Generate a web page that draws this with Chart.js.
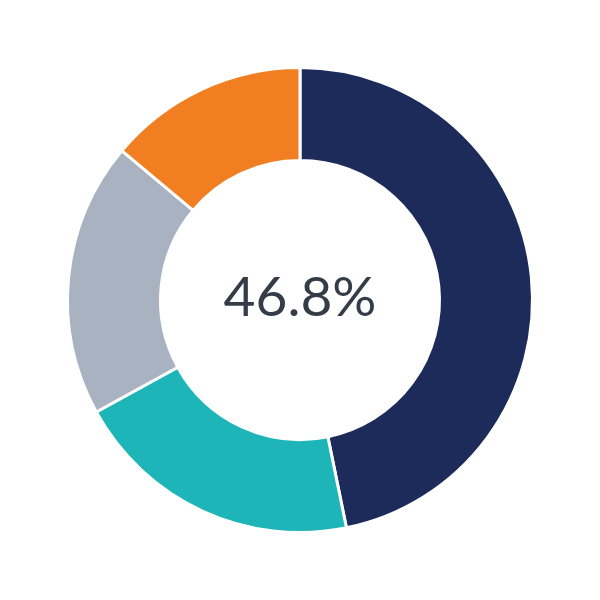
<!DOCTYPE html>
<html>
<head>
<meta charset="utf-8">
<script src="https://cdn.jsdelivr.net/npm/chart.js@4"></script>
<style>
  html, body { margin: 0; padding: 0; background: #fff; }
  #wrap { width: 600px; height: 600px; }
</style>
</head>
<body>
<div id="wrap"><canvas id="myDoughnut"></canvas></div>
<script>
const labels = ['Segment A', 'Segment B', 'Segment C', 'Segment D']
const values = [46.8, 20.2, 19.1, 13.9]
const colors = ['#1c2b5a', '#1db5b8', '#a8b2c1', '#f27e22']
const centerLabel = '46.8%'

// draws the big number in the hole
const centerText = {
    id: 'centerText',
    afterDraw(chart) {
        const meta = chart.getDatasetMeta(0)
        const arc = meta.data[0]
        const ctx = chart.ctx
        ctx.save()
        ctx.font = '400 55px Lato'
        ctx.fillStyle = '#343c48'
        ctx.textAlign = 'center'
        ctx.textBaseline = 'middle'
        ctx.fillText(centerLabel, arc.x, arc.y - 2)
        ctx.restore()
    }
}

const ctx = document.getElementById('myDoughnut')
new Chart(ctx, {
    type: 'doughnut',
    data: {
        labels: labels,
        datasets: [{
            data: values,
            backgroundColor: colors,
            borderColor: '#ffffff',
            borderWidth: 3
        }]
    },
    options: {
        responsive: true,
        maintainAspectRatio: false,
        animation: false,
        cutout: '60%',
        layout: { padding: 66 },
        plugins: {
            legend: { display: false },
            tooltip: { enabled: false }
        }
    },
    plugins: [centerText]
})
</script>
</body>
</html>
